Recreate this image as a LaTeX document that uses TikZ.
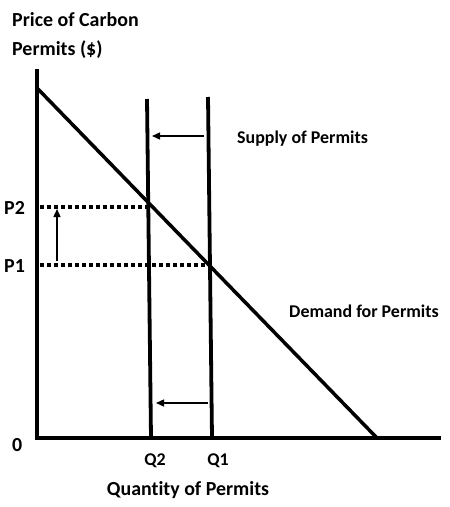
\documentclass[tikz,border=0pt]{standalone}
\usepackage{fontspec}
\setmainfont[Ligatures=NoCommon]{Carlito}
\usetikzlibrary{arrows.meta}
\begin{document}
\begin{tikzpicture}[x=1bp,y=-1bp,
  thick line/.style={line width=3.8bp},
  dotline/.style={line width=3.5bp, dash pattern=on 4bp off 3bp},
  shiftarrow/.style={line width=1.3bp, -{Triangle[length=8bp,width=7bp]}},
  lbl/.style={font=\fontsize{18}{22}\selectfont\bfseries, inner sep=0pt},
  biglbl/.style={font=\fontsize{20}{24}\selectfont\bfseries, inner sep=0pt}]
\useasboundingbox (0,0) rectangle (450,507);
% axes
\coordinate (ytop) at (37,69);
\coordinate (origin) at (37,438);
\coordinate (xend) at (441,438);
\draw[thick line] (ytop) -- (origin) -- (xend);
% demand
\coordinate (dtop) at (37,88);
\coordinate (dbot) at (377,438);
\draw[line width=3.5bp] (dtop) -- (dbot);
% supply curves
\coordinate (s1t) at (208,97);
\coordinate (s1b) at (212,438);
\coordinate (s2t) at (147,99);
\coordinate (s2b) at (151,438);
\draw[thick line] (s1t) -- (s1b);
\draw[thick line] (s2t) -- (s2b);
% price dotted lines
\coordinate (p2l) at (40,207);
\coordinate (p2r) at (148,207);
\coordinate (p1l) at (40,265);
\coordinate (p1r) at (210,265);
\draw[dotline] (p2l) -- (p2r);
\draw[dotline] (p1l) -- (p1r);
% arrows
\coordinate (a1s) at (57,261);
\coordinate (a1e) at (57,209);
\draw[shiftarrow] (a1s) -- (a1e);
\coordinate (a2s) at (204,136);
\coordinate (a2e) at (152,136);
\draw[shiftarrow] (a2s) -- (a2e);
\coordinate (a3s) at (208,403);
\coordinate (a3e) at (156,403);
\draw[shiftarrow] (a3s) -- (a3e);
% labels
\node[biglbl, anchor=west] (ylab1) at (12,20) {Price of Carbon};
\node[biglbl, anchor=west] (ylab2) at (12,50) {Permits (\$)};
\node[biglbl, anchor=west] (p2) at (4,208) {P2};
\node[biglbl, anchor=west] (p1) at (4,266) {P1};
\node[biglbl, anchor=west] (zero) at (12,445) {0};
\node[lbl] (q2) at (155,461) {Q2};
\node[lbl] (q1) at (218,461) {Q1};
\node[biglbl] (xlab) at (188,490) {Quantity of Permits};
\node[lbl, anchor=west] (supply) at (237,139) {Supply of Permits};
\node[lbl, anchor=west] (demand) at (289,311) {Demand for Permits};
\end{tikzpicture}
\end{document}
